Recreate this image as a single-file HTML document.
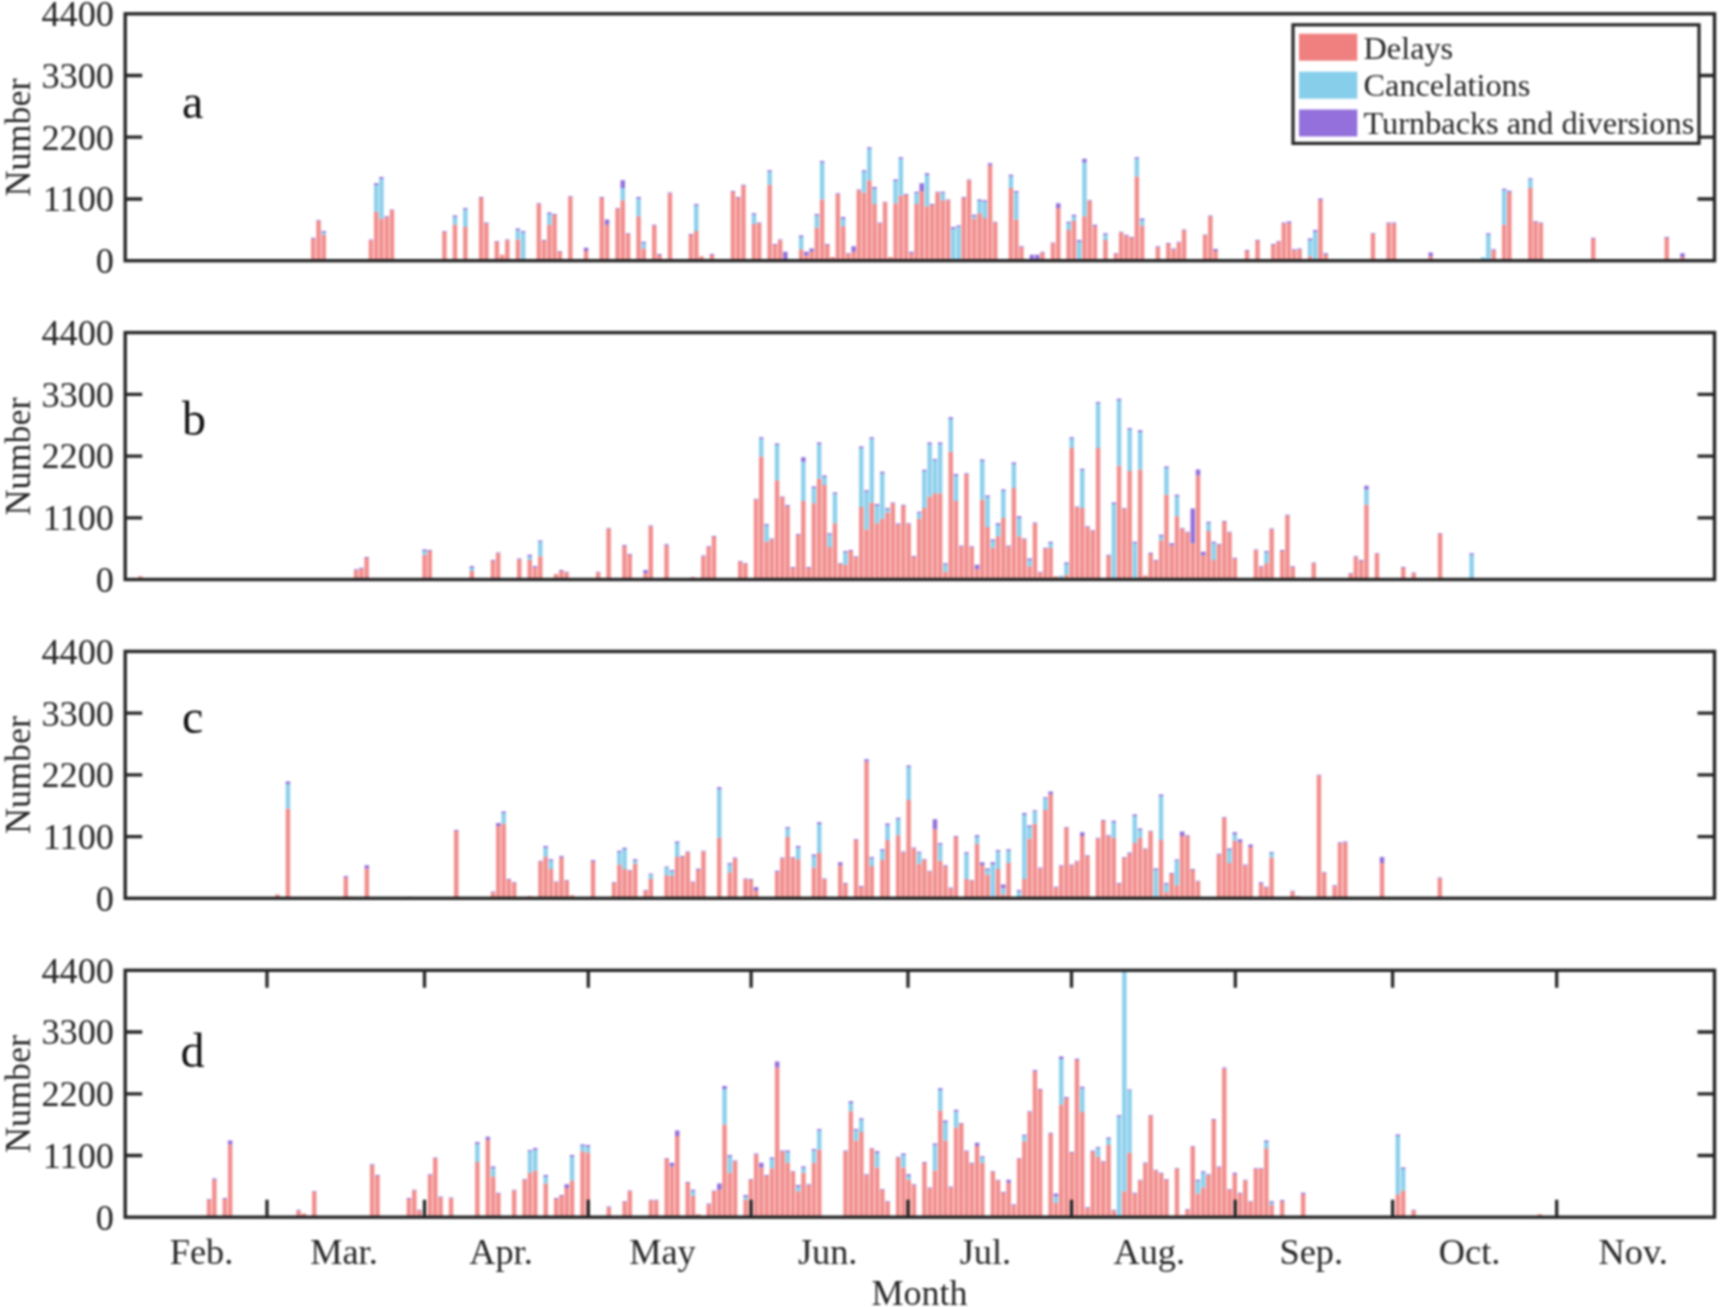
<!DOCTYPE html>
<html lang="en"><head><meta charset="utf-8"><title>Delays, cancelations, turnbacks and diversions by month</title>
<style>html,body{margin:0;padding:0;background:#fff}svg{display:block;filter:blur(0.8px)}</style></head>
<body>
<svg width="1725" height="1307" viewBox="0 0 1725 1307" font-family="'Liberation Serif', 'Times New Roman', serif">
<rect width="1725" height="1307" fill="#fff"/>
<g id="bars-a"><path fill="#f28e8e" d="M311.0 260.7v-22.0h4.5v22.0zM316.3 260.7v-39.6h4.5v39.6zM321.5 260.7v-25.9h4.5v25.9zM368.7 260.7v-20.4h4.5v20.4zM374.0 260.7v-49.0h4.5v49.0zM379.2 260.7v-42.1h4.5v42.1zM384.5 260.7v-43.5h4.5v43.5zM389.7 260.7v-50.4h4.5v50.4zM442.2 260.7v-28.9h4.5v28.9zM452.7 260.7v-35.9h4.5v35.9zM463.1 260.7v-33.6h4.5v33.6zM478.9 260.7v-62.7h4.5v62.7zM484.1 260.7v-37.3h4.5v37.3zM494.6 260.7v-18.9h4.5v18.9zM499.9 260.7v-6.0h4.5v6.0zM505.1 260.7v-20.4h4.5v20.4zM515.6 260.7v-21.3h4.5v21.3zM520.9 260.7v-1.8h4.5v1.8zM536.6 260.7v-56.5h4.5v56.5zM541.8 260.7v-19.7h4.5v19.7zM547.1 260.7v-35.9h4.5v35.9zM552.3 260.7v-45.8h4.5v45.8zM557.6 260.7v-8.9h4.5v8.9zM568.1 260.7v-63.5h4.5v63.5zM583.8 260.7v-9.8h4.5v9.8zM599.5 260.7v-62.7h4.5v62.7zM604.8 260.7v-35.9h4.5v35.9zM615.3 260.7v-51.9h4.5v51.9zM620.5 260.7v-60.5h4.5v60.5zM625.8 260.7v-26.6h4.5v26.6zM636.3 260.7v-44.4h4.5v44.4zM641.5 260.7v-12.1h4.5v12.1zM652.0 260.7v-35.0h4.5v35.0zM657.2 260.7v-5.8h4.5v5.8zM667.7 260.7v-67.3h4.5v67.3zM688.7 260.7v-25.8h4.5v25.8zM694.0 260.7v-29.8h4.5v29.8zM699.2 260.7v-4.4h4.5v4.4zM709.7 260.7v-5.8h4.5v5.8zM730.7 260.7v-68.8h4.5v68.8zM735.9 260.7v-62.7h4.5v62.7zM741.2 260.7v-75.0h4.5v75.0zM751.7 260.7v-36.7h4.5v36.7zM756.9 260.7v-37.3h4.5v37.3zM767.4 260.7v-75.9h4.5v75.9zM772.7 260.7v-15.8h4.5v15.8zM777.9 260.7v-20.4h4.5v20.4zM783.1 260.7v-1.8h4.5v1.8zM798.9 260.7v-11.4h4.5v11.4zM804.1 260.7v-5.2h4.5v5.2zM809.4 260.7v-9.0h4.5v9.0zM814.6 260.7v-32.9h4.5v32.9zM819.9 260.7v-61.3h4.5v61.3zM825.1 260.7v-15.8h4.5v15.8zM830.4 260.7v-3.7h4.5v3.7zM835.6 260.7v-66.5h4.5v66.5zM840.9 260.7v-34.4h4.5v34.4zM846.1 260.7v-6.6h4.5v6.6zM851.4 260.7v-9.0h4.5v9.0zM856.6 260.7v-70.4h4.5v70.4zM861.8 260.7v-68.2h4.5v68.2zM867.1 260.7v-80.5h4.5v80.5zM872.3 260.7v-56.7h4.5v56.7zM877.6 260.7v-37.3h4.5v37.3zM882.8 260.7v-58.1h4.5v58.1zM888.1 260.7v-3.7h4.5v3.7zM893.3 260.7v-57.4h4.5v57.4zM898.6 260.7v-65.1h4.5v65.1zM903.8 260.7v-65.8h4.5v65.8zM909.1 260.7v-7.5h4.5v7.5zM914.3 260.7v-56.7h4.5v56.7zM919.5 260.7v-69.7h4.5v69.7zM924.8 260.7v-54.4h4.5v54.4zM930.0 260.7v-55.8h4.5v55.8zM935.3 260.7v-68.1h4.5v68.1zM940.5 260.7v-60.5h4.5v60.5zM945.8 260.7v-60.4h4.5v60.4zM951.0 260.7v-1.8h4.5v1.8zM956.3 260.7v-1.8h4.5v1.8zM961.5 260.7v-62.7h4.5v62.7zM966.8 260.7v-80.4h4.5v80.4zM972.0 260.7v-42.1h4.5v42.1zM977.3 260.7v-47.5h4.5v47.5zM982.5 260.7v-42.8h4.5v42.8zM987.8 260.7v-95.1h4.5v95.1zM993.0 260.7v-38.1h4.5v38.1zM1008.7 260.7v-72.8h4.5v72.8zM1014.0 260.7v-41.3h4.5v41.3zM1019.2 260.7v-13.5h4.5v13.5zM1029.7 260.7v-1.8h4.5v1.8zM1035.0 260.7v-1.8h4.5v1.8zM1040.2 260.7v-8.1h4.5v8.1zM1050.7 260.7v-17.4h4.5v17.4zM1056.0 260.7v-52.8h4.5v52.8zM1066.4 260.7v-30.6h4.5v30.6zM1071.7 260.7v-39.8h4.5v39.8zM1076.9 260.7v-1.8h4.5v1.8zM1082.2 260.7v-44.4h4.5v44.4zM1087.4 260.7v-59.6h4.5v59.6zM1092.7 260.7v-34.4h4.5v34.4zM1103.2 260.7v-20.6h4.5v20.6zM1113.7 260.7v-6.6h4.5v6.6zM1118.9 260.7v-28.1h4.5v28.1zM1124.1 260.7v-25.0h4.5v25.0zM1129.4 260.7v-22.7h4.5v22.7zM1134.6 260.7v-84.3h4.5v84.3zM1139.9 260.7v-35.2h4.5v35.2zM1155.6 260.7v-13.5h4.5v13.5zM1166.1 260.7v-16.7h4.5v16.7zM1171.4 260.7v-11.2h4.5v11.2zM1176.6 260.7v-18.1h4.5v18.1zM1181.8 260.7v-30.4h4.5v30.4zM1202.8 260.7v-25.9h4.5v25.9zM1208.1 260.7v-44.2h4.5v44.2zM1213.3 260.7v-9.8h4.5v9.8zM1244.8 260.7v-9.7h4.5v9.7zM1255.3 260.7v-19.7h4.5v19.7zM1271.0 260.7v-15.8h4.5v15.8zM1276.3 260.7v-18.9h4.5v18.9zM1281.5 260.7v-37.3h4.5v37.3zM1286.8 260.7v-37.5h4.5v37.5zM1292.0 260.7v-10.5h4.5v10.5zM1297.3 260.7v-11.2h4.5v11.2zM1307.8 260.7v-4.4h4.5v4.4zM1313.0 260.7v-1.8h4.5v1.8zM1318.2 260.7v-60.5h4.5v60.5zM1323.5 260.7v-6.0h4.5v6.0zM1370.7 260.7v-26.6h4.5v26.6zM1386.4 260.7v-37.3h4.5v37.3zM1391.7 260.7v-37.3h4.5v37.3zM1428.4 260.7v-4.4h4.5v4.4zM1480.9 260.7v-1.8h4.5v1.8zM1486.1 260.7v-1.8h4.5v1.8zM1491.4 260.7v-10.5h4.5v10.5zM1501.9 260.7v-35.9h4.5v35.9zM1507.1 260.7v-68.2h4.5v68.2zM1528.1 260.7v-72.8h4.5v72.8zM1533.3 260.7v-38.9h4.5v38.9zM1538.6 260.7v-37.3h4.5v37.3zM1591.0 260.7v-22.0h4.5v22.0zM1664.5 260.7v-22.7h4.5v22.7zM1680.2 260.7v-3.7h4.5v3.7z"/><path fill="#8dd0ec" d="M321.5 234.8v-2.2h4.5v2.2zM374.0 211.7v-26.8h4.5v26.8zM379.2 218.6v-39.9h4.5v39.9zM452.7 224.8v-7.6h4.5v7.6zM463.1 227.1v-17.6h4.5v17.6zM515.6 239.4v-9.2h4.5v9.2zM520.9 258.9v-26.4h4.5v26.4zM547.1 224.8v-10.7h4.5v10.7zM620.5 200.2v-12.3h4.5v12.3zM636.3 216.3v-17.6h4.5v17.6zM641.5 248.6v-5.3h4.5v5.3zM694.0 230.9v-25.3h4.5v25.3zM751.7 224.0v-9.2h4.5v9.2zM767.4 184.8v-13.0h4.5v13.0zM798.9 249.3v-12.2h4.5v12.2zM814.6 227.8v-12.2h4.5v12.2zM819.9 199.4v-36.8h4.5v36.8zM840.9 226.3v-7.6h4.5v7.6zM861.8 192.5v-20.7h4.5v20.7zM867.1 180.2v-31.4h4.5v31.4zM872.3 204.0v-15.3h4.5v15.3zM893.3 203.3v-22.2h4.5v22.2zM898.6 195.6v-36.8h4.5v36.8zM914.3 204.0v-10.7h4.5v10.7zM924.8 206.3v-31.4h4.5v31.4zM940.5 200.2v-6.8h4.5v6.8zM951.0 258.9v-30.2h4.5v30.2zM956.3 258.9v-31.7h4.5v31.7zM972.0 218.6v-2.2h4.5v2.2zM977.3 213.2v-12.2h4.5v12.2zM982.5 217.9v-16.1h4.5v16.1zM1008.7 187.9v-11.5h4.5v11.5zM1014.0 219.4v-26.8h4.5v26.8zM1066.4 230.1v-6.8h4.5v6.8zM1071.7 220.9v-4.5h4.5v4.5zM1076.9 258.9v-17.1h4.5v17.1zM1082.2 216.3v-53.8h4.5v53.8zM1103.2 240.1v-5.3h4.5v5.3zM1134.6 176.4v-17.6h4.5v17.6zM1139.9 225.5v-5.3h4.5v5.3zM1202.8 234.8v-0.8h4.5v0.8zM1307.8 256.3v-16.1h4.5v16.1zM1313.0 258.9v-27.1h4.5v27.1zM1480.9 258.9v-1.8h4.5v1.8zM1486.1 258.9v-24.1h4.5v24.1zM1501.9 224.8v-34.5h4.5v34.5zM1528.1 187.9v-8.4h4.5v8.4z"/><path fill="#9370db" d="M311.0 238.7v-0.9h4.5v0.9zM316.3 221.1v-0.9h4.5v0.9zM321.5 232.5v-1.6h4.5v1.6zM368.7 240.3v-0.9h4.5v0.9zM374.0 184.9v-1.6h4.5v1.6zM379.2 178.7v-1.6h4.5v1.6zM384.5 217.2v-0.9h4.5v0.9zM389.7 210.3v-0.9h4.5v0.9zM442.2 231.8v-0.9h4.5v0.9zM452.7 217.2v-1.6h4.5v1.6zM463.1 209.5v-1.6h4.5v1.6zM478.9 198.0v-0.9h4.5v0.9zM484.1 223.4v-0.9h4.5v0.9zM494.6 241.8v-0.9h4.5v0.9zM505.1 240.3v-0.9h4.5v0.9zM515.6 230.2v-1.6h4.5v1.6zM520.9 232.5v-1.6h4.5v1.6zM536.6 204.2v-0.9h4.5v0.9zM541.8 241.0v-0.9h4.5v0.9zM547.1 214.1v-1.6h4.5v1.6zM552.3 214.9v-0.9h4.5v0.9zM557.6 251.8v-0.9h4.5v0.9zM568.1 197.2v-0.9h4.5v0.9zM583.8 250.9v-3.1h4.5v3.1zM599.5 198.0v-0.9h4.5v0.9zM604.8 224.8v-5.4h4.5v5.4zM615.3 208.8v-0.9h4.5v0.9zM620.5 187.9v-7.7h4.5v7.7zM625.8 234.1v-0.9h4.5v0.9zM636.3 198.7v-1.6h4.5v1.6zM641.5 243.3v-1.6h4.5v1.6zM652.0 225.7v-0.9h4.5v0.9zM657.2 254.9v-0.9h4.5v0.9zM667.7 193.4v-0.9h4.5v0.9zM688.7 234.9v-0.9h4.5v0.9zM694.0 205.6v-1.6h4.5v1.6zM709.7 254.9v-0.9h4.5v0.9zM730.7 191.9v-0.9h4.5v0.9zM735.9 198.0v-0.9h4.5v0.9zM741.2 185.7v-0.9h4.5v0.9zM751.7 214.8v-1.6h4.5v1.6zM756.9 223.4v-0.9h4.5v0.9zM767.4 171.8v-1.6h4.5v1.6zM772.7 244.9v-0.9h4.5v0.9zM777.9 240.3v-0.9h4.5v0.9zM783.1 258.9v-7.2h4.5v7.2zM798.9 237.1v-1.6h4.5v1.6zM804.1 255.5v-3.8h4.5v3.8zM809.4 251.7v-3.1h4.5v3.1zM814.6 215.6v-1.6h4.5v1.6zM819.9 162.6v-1.6h4.5v1.6zM825.1 244.9v-0.9h4.5v0.9zM835.6 194.2v-0.9h4.5v0.9zM840.9 218.7v-1.6h4.5v1.6zM846.1 254.1v-0.9h4.5v0.9zM851.4 251.7v-5.4h4.5v5.4zM856.6 190.3v-0.9h4.5v0.9zM861.8 171.8v-1.6h4.5v1.6zM867.1 148.8v-1.6h4.5v1.6zM872.3 188.7v-1.6h4.5v1.6zM877.6 223.4v-0.9h4.5v0.9zM882.8 202.6v-0.9h4.5v0.9zM893.3 181.0v-1.6h4.5v1.6zM898.6 158.8v-1.6h4.5v1.6zM903.8 194.9v-0.9h4.5v0.9zM909.1 253.2v-1.5h4.5v1.5zM914.3 193.3v-1.6h4.5v1.6zM919.5 191.0v-7.7h4.5v7.7zM924.8 174.9v-1.6h4.5v1.6zM930.0 204.9v-0.9h4.5v0.9zM935.3 192.6v-0.9h4.5v0.9zM940.5 193.3v-1.6h4.5v1.6zM945.8 200.3v-0.9h4.5v0.9zM951.0 228.7v-1.6h4.5v1.6zM956.3 227.1v-1.6h4.5v1.6zM961.5 198.0v-0.9h4.5v0.9zM966.8 180.3v-0.9h4.5v0.9zM972.0 216.4v-1.6h4.5v1.6zM977.3 201.0v-1.6h4.5v1.6zM982.5 201.8v-1.6h4.5v1.6zM987.8 165.6v-2.3h4.5v2.3zM993.0 222.6v-0.9h4.5v0.9zM1008.7 176.4v-1.6h4.5v1.6zM1014.0 192.6v-1.6h4.5v1.6zM1019.2 247.2v-0.9h4.5v0.9zM1029.7 258.9v-4.1h4.5v4.1zM1035.0 258.9v-4.1h4.5v4.1zM1040.2 252.6v-0.9h4.5v0.9zM1050.7 243.3v-0.9h4.5v0.9zM1056.0 207.9v-4.6h4.5v4.6zM1066.4 223.3v-1.6h4.5v1.6zM1071.7 216.4v-1.6h4.5v1.6zM1076.9 241.7v-1.6h4.5v1.6zM1082.2 162.6v-3.8h4.5v3.8zM1087.4 201.1v-0.9h4.5v0.9zM1092.7 226.3v-1.5h4.5v1.5zM1103.2 234.8v-1.6h4.5v1.6zM1113.7 254.1v-0.9h4.5v0.9zM1118.9 232.6v-0.9h4.5v0.9zM1124.1 235.7v-0.9h4.5v0.9zM1129.4 238.0v-0.9h4.5v0.9zM1134.6 158.8v-1.6h4.5v1.6zM1139.9 220.2v-1.6h4.5v1.6zM1155.6 247.2v-0.9h4.5v0.9zM1166.1 244.0v-1.1h4.5v1.1zM1171.4 249.5v-0.9h4.5v0.9zM1176.6 242.6v-0.9h4.5v0.9zM1181.8 230.3v-0.9h4.5v0.9zM1208.1 216.5v-0.9h4.5v0.9zM1213.3 250.9v-1.8h4.5v1.8zM1244.8 251.0v-0.9h4.5v0.9zM1255.3 241.0v-0.9h4.5v0.9zM1271.0 244.9v-0.9h4.5v0.9zM1276.3 241.8v-0.9h4.5v0.9zM1281.5 223.4v-0.9h4.5v0.9zM1286.8 223.2v-1.8h4.5v1.8zM1292.0 250.2v-0.9h4.5v0.9zM1297.3 249.5v-0.9h4.5v0.9zM1307.8 240.2v-1.6h4.5v1.6zM1313.0 231.7v-1.6h4.5v1.6zM1318.2 200.2v-1.8h4.5v1.8zM1323.5 254.7v-1.5h4.5v1.5zM1370.7 234.1v-0.9h4.5v0.9zM1386.4 223.4v-0.9h4.5v0.9zM1391.7 223.4v-0.9h4.5v0.9zM1428.4 256.3v-3.8h4.5v3.8zM1486.1 234.8v-1.6h4.5v1.6zM1491.4 250.2v-0.9h4.5v0.9zM1501.9 190.3v-1.6h4.5v1.6zM1507.1 192.5v-1.8h4.5v1.8zM1528.1 179.4v-1.1h4.5v1.1zM1533.3 221.8v-0.9h4.5v0.9zM1538.6 223.4v-0.9h4.5v0.9zM1591.0 238.7v-0.9h4.5v0.9zM1664.5 238.0v-0.9h4.5v0.9zM1680.2 257.0v-3.8h4.5v3.8z"/></g>
<rect x="125.2" y="13.8" width="1589.3" height="246.9" fill="none" stroke="#262626" stroke-width="3.4"/>
<path d="M125.2 199.0h17M1714.5 199.0h-17M125.2 137.2h17M1714.5 137.2h-17M125.2 75.5h17M1714.5 75.5h-17" stroke="#262626" stroke-width="3.3" fill="none"/>
<text x="114" y="273.1" font-size="36.3" text-anchor="end" fill="#262626">0</text>
<text x="114" y="211.4" font-size="36.3" text-anchor="end" fill="#262626">1100</text>
<text x="114" y="149.7" font-size="36.3" text-anchor="end" fill="#262626">2200</text>
<text x="114" y="87.9" font-size="36.3" text-anchor="end" fill="#262626">3300</text>
<text x="114" y="26.2" font-size="36.3" text-anchor="end" fill="#262626">4400</text>
<text transform="translate(30.2 137.6) rotate(-90)" font-size="36" text-anchor="middle" fill="#262626">Number</text>
<g id="bars-b"><path fill="#f28e8e" d="M138.1 579.5v-3.2h4.5v3.2zM353.9 579.5v-9.3h4.5v9.3zM359.1 579.5v-10.8h4.5v10.8zM364.4 579.5v-21.5h4.5v21.5zM422.3 579.5v-24.7h4.5v24.7zM427.5 579.5v-28.5h4.5v28.5zM469.6 579.5v-8.6h4.5v8.6zM490.7 579.5v-18.5h4.5v18.5zM495.9 579.5v-26.2h4.5v26.2zM517.0 579.5v-20.0h4.5v20.0zM527.5 579.5v-19.4h4.5v19.4zM532.8 579.5v-12.0h4.5v12.0zM538.0 579.5v-23.2h4.5v23.2zM553.8 579.5v-5.5h4.5v5.5zM559.1 579.5v-8.5h4.5v8.5zM564.3 579.5v-6.9h4.5v6.9zM595.9 579.5v-6.9h4.5v6.9zM606.4 579.5v-50.7h4.5v50.7zM622.2 579.5v-33.2h4.5v33.2zM627.5 579.5v-24.6h4.5v24.6zM643.3 579.5v-6.3h4.5v6.3zM648.5 579.5v-53.0h4.5v53.0zM664.3 579.5v-34.0h4.5v34.0zM690.6 579.5v-2.5h4.5v2.5zM701.1 579.5v-23.1h4.5v23.1zM706.4 579.5v-32.3h4.5v32.3zM711.7 579.5v-42.4h4.5v42.4zM738.0 579.5v-17.7h4.5v17.7zM743.2 579.5v-15.4h4.5v15.4zM753.8 579.5v-79.9h4.5v79.9zM759.0 579.5v-123.1h4.5v123.1zM764.3 579.5v-37.8h4.5v37.8zM769.5 579.5v-40.0h4.5v40.0zM774.8 579.5v-99.3h4.5v99.3zM780.1 579.5v-82.2h4.5v82.2zM785.3 579.5v-73.1h4.5v73.1zM790.6 579.5v-11.6h4.5v11.6zM795.9 579.5v-44.6h4.5v44.6zM801.1 579.5v-78.5h4.5v78.5zM806.4 579.5v-11.6h4.5v11.6zM811.6 579.5v-76.2h4.5v76.2zM816.9 579.5v-100.8h4.5v100.8zM822.2 579.5v-94.6h4.5v94.6zM827.4 579.5v-32.4h4.5v32.4zM832.7 579.5v-56.2h4.5v56.2zM838.0 579.5v-15.4h4.5v15.4zM843.2 579.5v-14.8h4.5v14.8zM848.5 579.5v-28.5h4.5v28.5zM853.7 579.5v-22.3h4.5v22.3zM859.0 579.5v-72.4h4.5v72.4zM864.3 579.5v-50.1h4.5v50.1zM869.5 579.5v-77.0h4.5v77.0zM874.8 579.5v-56.2h4.5v56.2zM880.0 579.5v-60.8h4.5v60.8zM885.3 579.5v-67.0h4.5v67.0zM890.6 579.5v-76.1h4.5v76.1zM895.8 579.5v-54.7h4.5v54.7zM901.1 579.5v-73.8h4.5v73.8zM906.4 579.5v-55.3h4.5v55.3zM911.6 579.5v-22.4h4.5v22.4zM916.9 579.5v-60.8h4.5v60.8zM922.1 579.5v-71.6h4.5v71.6zM927.4 579.5v-83.1h4.5v83.1zM932.7 579.5v-86.2h4.5v86.2zM937.9 579.5v-86.2h4.5v86.2zM943.2 579.5v-7.8h4.5v7.8zM948.5 579.5v-127.7h4.5v127.7zM953.7 579.5v-78.5h4.5v78.5zM959.0 579.5v-33.1h4.5v33.1zM964.2 579.5v-105.3h4.5v105.3zM969.5 579.5v-32.3h4.5v32.3zM974.8 579.5v-10.2h4.5v10.2zM980.0 579.5v-80.1h4.5v80.1zM985.3 579.5v-52.4h4.5v52.4zM990.6 579.5v-31.7h4.5v31.7zM995.8 579.5v-43.2h4.5v43.2zM1001.1 579.5v-61.6h4.5v61.6zM1006.3 579.5v-33.1h4.5v33.1zM1011.6 579.5v-91.6h4.5v91.6zM1016.9 579.5v-43.2h4.5v43.2zM1022.1 579.5v-40.0h4.5v40.0zM1027.4 579.5v-13.2h4.5v13.2zM1032.7 579.5v-56.1h4.5v56.1zM1037.9 579.5v-6.9h4.5v6.9zM1043.2 579.5v-30.8h4.5v30.8zM1048.4 579.5v-31.7h4.5v31.7zM1053.7 579.5v-3.2h4.5v3.2zM1064.2 579.5v-4.8h4.5v4.8zM1069.5 579.5v-131.5h4.5v131.5zM1074.8 579.5v-72.2h4.5v72.2zM1080.0 579.5v-71.6h4.5v71.6zM1085.3 579.5v-52.3h4.5v52.3zM1090.5 579.5v-48.4h4.5v48.4zM1095.8 579.5v-131.5h4.5v131.5zM1106.3 579.5v-23.8h4.5v23.8zM1116.8 579.5v-113.8h4.5v113.8zM1122.1 579.5v-70.7h4.5v70.7zM1127.4 579.5v-108.5h4.5v108.5zM1137.9 579.5v-110.0h4.5v110.0zM1143.2 579.5v-4.0h4.5v4.0zM1148.4 579.5v-25.5h4.5v25.5zM1153.7 579.5v-18.5h4.5v18.5zM1158.9 579.5v-39.3h4.5v39.3zM1164.2 579.5v-84.7h4.5v84.7zM1169.5 579.5v-34.0h4.5v34.0zM1174.7 579.5v-63.2h4.5v63.2zM1180.0 579.5v-50.7h4.5v50.7zM1185.2 579.5v-46.9h4.5v46.9zM1190.5 579.5v-36.3h4.5v36.3zM1195.8 579.5v-103.9h4.5v103.9zM1201.0 579.5v-24.0h4.5v24.0zM1206.3 579.5v-48.6h4.5v48.6zM1211.6 579.5v-19.4h4.5v19.4zM1216.8 579.5v-34.6h4.5v34.6zM1222.1 579.5v-57.6h4.5v57.6zM1227.3 579.5v-46.9h4.5v46.9zM1232.6 579.5v-20.8h4.5v20.8zM1253.7 579.5v-29.2h4.5v29.2zM1258.9 579.5v-12.3h4.5v12.3zM1264.2 579.5v-16.3h4.5v16.3zM1269.4 579.5v-50.0h4.5v50.0zM1280.0 579.5v-28.5h4.5v28.5zM1285.2 579.5v-63.8h4.5v63.8zM1290.5 579.5v-12.3h4.5v12.3zM1311.5 579.5v-16.2h4.5v16.2zM1348.4 579.5v-5.4h4.5v5.4zM1353.6 579.5v-22.3h4.5v22.3zM1358.9 579.5v-18.5h4.5v18.5zM1364.2 579.5v-74.7h4.5v74.7zM1374.7 579.5v-25.4h4.5v25.4zM1401.0 579.5v-11.6h4.5v11.6zM1411.5 579.5v-6.2h4.5v6.2zM1437.8 579.5v-45.4h4.5v45.4z"/><path fill="#8dd0ec" d="M422.3 554.8v-3.8h4.5v3.8zM469.6 570.9v-3.0h4.5v3.0zM527.5 560.1v-3.8h4.5v3.8zM538.0 556.3v-14.6h4.5v14.6zM759.0 456.4v-17.6h4.5v17.6zM764.3 541.7v-16.1h4.5v16.1zM774.8 480.2v-35.3h4.5v35.3zM801.1 501.0v-39.2h4.5v39.2zM811.6 503.3v-15.3h4.5v15.3zM816.9 478.7v-34.5h4.5v34.5zM822.2 484.9v-7.6h4.5v7.6zM827.4 547.1v-12.2h4.5v12.2zM832.7 523.3v-29.1h4.5v29.1zM843.2 564.7v-12.2h4.5v12.2zM859.0 507.1v-59.1h4.5v59.1zM864.3 529.4v-37.6h4.5v37.6zM869.5 502.5v-63.7h4.5v63.7zM874.8 523.3v-17.6h4.5v17.6zM880.0 518.7v-45.3h4.5v45.3zM885.3 512.5v-3.0h4.5v3.0zM916.9 518.7v-5.3h4.5v5.3zM922.1 507.9v-36.9h4.5v36.9zM927.4 496.4v-52.2h4.5v52.2zM932.7 493.3v-33.0h4.5v33.0zM937.9 493.3v-49.1h4.5v49.1zM943.2 571.7v-6.8h4.5v6.8zM948.5 451.8v-33.0h4.5v33.0zM953.7 501.0v-25.3h4.5v25.3zM980.0 499.4v-38.3h4.5v38.3zM985.3 527.1v-29.9h4.5v29.9zM990.6 547.8v-6.8h4.5v6.8zM995.8 536.3v-11.5h4.5v11.5zM1001.1 517.9v-26.8h4.5v26.8zM1011.6 487.9v-23.7h4.5v23.7zM1016.9 536.3v-18.4h4.5v18.4zM1027.4 566.3v-6.1h4.5v6.1zM1048.4 547.8v-4.5h4.5v4.5zM1059.0 579.5v-4.0h4.5v4.0zM1064.2 574.7v-10.7h4.5v10.7zM1069.5 448.0v-9.2h4.5v9.2zM1080.0 507.9v-37.6h4.5v37.6zM1095.8 448.0v-44.5h4.5v44.5zM1111.6 579.5v-75.4h4.5v75.4zM1116.8 465.7v-65.2h4.5v65.2zM1127.4 471.0v-41.4h4.5v41.4zM1132.6 579.5v-36.2h4.5v36.2zM1137.9 469.5v-37.6h4.5v37.6zM1158.9 540.2v-3.8h4.5v3.8zM1164.2 494.8v-26.8h4.5v26.8zM1174.7 516.3v-19.9h4.5v19.9zM1206.3 530.9v-7.6h4.5v7.6zM1211.6 560.1v-16.8h4.5v16.8zM1264.2 563.2v-10.7h4.5v10.7zM1364.2 504.8v-15.4h4.5v15.4zM1469.4 579.5v-24.7h4.5v24.7z"/><path fill="#9370db" d="M353.9 570.2v-0.9h4.5v0.9zM359.1 568.7v-0.9h4.5v0.9zM364.4 558.0v-0.9h4.5v0.9zM422.3 551.0v-1.6h4.5v1.6zM427.5 551.0v-0.9h4.5v0.9zM469.6 567.9v-1.6h4.5v1.6zM490.7 561.0v-0.9h4.5v0.9zM495.9 553.3v-0.9h4.5v0.9zM517.0 559.5v-0.9h4.5v0.9zM527.5 556.4v-1.6h4.5v1.6zM532.8 567.5v-1.5h4.5v1.5zM538.0 541.7v-1.2h4.5v1.2zM559.1 571.0v-0.9h4.5v0.9zM564.3 572.6v-0.9h4.5v0.9zM595.9 572.6v-0.9h4.5v0.9zM606.4 528.8v-0.9h4.5v0.9zM622.2 546.3v-1.2h4.5v1.2zM627.5 554.9v-0.9h4.5v0.9zM643.3 573.2v-3.1h4.5v3.1zM648.5 526.5v-0.9h4.5v0.9zM664.3 545.5v-1.2h4.5v1.2zM701.1 556.4v-0.9h4.5v0.9zM706.4 547.2v-0.9h4.5v0.9zM711.7 537.1v-1.2h4.5v1.2zM738.0 561.8v-0.9h4.5v0.9zM743.2 564.1v-0.9h4.5v0.9zM753.8 499.6v-0.9h4.5v0.9zM759.0 438.8v-1.6h4.5v1.6zM764.3 525.6v-1.6h4.5v1.6zM769.5 539.5v-0.9h4.5v0.9zM774.8 445.0v-1.6h4.5v1.6zM780.1 497.3v-0.9h4.5v0.9zM785.3 506.4v-1.5h4.5v1.5zM790.6 567.9v-0.9h4.5v0.9zM795.9 534.9v-0.9h4.5v0.9zM801.1 461.8v-4.6h4.5v4.6zM806.4 567.9v-0.9h4.5v0.9zM811.6 488.0v-1.6h4.5v1.6zM816.9 444.2v-1.6h4.5v1.6zM822.2 477.2v-1.6h4.5v1.6zM827.4 534.8v-1.6h4.5v1.6zM832.7 494.1v-1.6h4.5v1.6zM838.0 564.1v-0.9h4.5v0.9zM843.2 552.5v-1.6h4.5v1.6zM848.5 551.0v-0.9h4.5v0.9zM853.7 557.2v-0.9h4.5v0.9zM859.0 448.0v-1.6h4.5v1.6zM864.3 491.8v-1.6h4.5v1.6zM869.5 438.8v-1.6h4.5v1.6zM874.8 505.7v-1.6h4.5v1.6zM880.0 473.4v-1.6h4.5v1.6zM885.3 509.5v-1.6h4.5v1.6zM890.6 503.4v-0.9h4.5v0.9zM895.8 524.8v-1.2h4.5v1.2zM901.1 505.7v-0.9h4.5v0.9zM906.4 524.2v-0.9h4.5v0.9zM911.6 557.1v-1.2h4.5v1.2zM916.9 513.3v-1.6h4.5v1.6zM922.1 471.0v-1.2h4.5v1.2zM927.4 444.2v-1.6h4.5v1.6zM932.7 460.3v-1.2h4.5v1.2zM937.9 444.2v-1.6h4.5v1.6zM943.2 564.8v-1.6h4.5v1.6zM948.5 418.9v-1.6h4.5v1.6zM953.7 475.7v-1.6h4.5v1.6zM959.0 546.4v-0.9h4.5v0.9zM964.2 474.2v-0.9h4.5v0.9zM969.5 547.2v-0.9h4.5v0.9zM974.8 569.3v-4.6h4.5v4.6zM980.0 461.1v-1.6h4.5v1.6zM985.3 497.2v-1.6h4.5v1.6zM990.6 541.0v-1.6h4.5v1.6zM995.8 524.9v-1.6h4.5v1.6zM1001.1 491.1v-1.6h4.5v1.6zM1006.3 546.4v-0.9h4.5v0.9zM1011.6 464.2v-1.6h4.5v1.6zM1016.9 517.9v-1.6h4.5v1.6zM1022.1 539.5v-0.9h4.5v0.9zM1027.4 560.2v-1.6h4.5v1.6zM1032.7 523.4v-0.9h4.5v0.9zM1037.9 572.6v-0.9h4.5v0.9zM1043.2 548.7v-0.9h4.5v0.9zM1048.4 543.3v-1.6h4.5v1.6zM1064.2 564.0v-1.6h4.5v1.6zM1069.5 438.8v-1.6h4.5v1.6zM1074.8 507.3v-0.9h4.5v0.9zM1080.0 470.3v-1.6h4.5v1.6zM1085.3 527.2v-0.9h4.5v0.9zM1090.5 531.1v-0.9h4.5v0.9zM1095.8 403.5v-1.6h4.5v1.6zM1106.3 555.7v-0.9h4.5v0.9zM1111.6 504.1v-1.6h4.5v1.6zM1116.8 400.4v-1.6h4.5v1.6zM1122.1 508.8v-0.9h4.5v0.9zM1127.4 429.6v-1.6h4.5v1.6zM1132.6 543.3v-1.6h4.5v1.6zM1137.9 431.9v-1.6h4.5v1.6zM1148.4 554.0v-1.2h4.5v1.2zM1153.7 561.0v-0.9h4.5v0.9zM1158.9 536.4v-1.6h4.5v1.6zM1164.2 468.0v-1.6h4.5v1.6zM1169.5 545.5v-2.3h4.5v2.3zM1174.7 496.4v-1.6h4.5v1.6zM1180.0 528.8v-0.9h4.5v0.9zM1185.2 532.6v-0.9h4.5v0.9zM1190.5 543.2v-34.6h4.5v34.6zM1195.8 475.6v-6.1h4.5v6.1zM1201.0 555.5v-3.8h4.5v3.8zM1206.3 523.3v-1.6h4.5v1.6zM1211.6 543.3v-1.6h4.5v1.6zM1216.8 544.9v-0.9h4.5v0.9zM1222.1 521.9v-0.9h4.5v0.9zM1227.3 532.6v-0.9h4.5v0.9zM1232.6 558.7v-0.9h4.5v0.9zM1253.7 550.3v-0.9h4.5v0.9zM1258.9 567.2v-0.9h4.5v0.9zM1264.2 552.5v-1.6h4.5v1.6zM1269.4 529.5v-0.9h4.5v0.9zM1280.0 551.0v-0.9h4.5v0.9zM1285.2 515.7v-0.9h4.5v0.9zM1290.5 567.2v-0.9h4.5v0.9zM1311.5 563.3v-0.9h4.5v0.9zM1348.4 574.1v-0.9h4.5v0.9zM1353.6 557.2v-0.9h4.5v0.9zM1358.9 561.0v-0.9h4.5v0.9zM1364.2 489.5v-3.8h4.5v3.8zM1374.7 554.1v-0.9h4.5v0.9zM1401.0 567.9v-0.9h4.5v0.9zM1411.5 573.3v-0.9h4.5v0.9zM1437.8 534.1v-0.9h4.5v0.9zM1469.4 554.8v-1.6h4.5v1.6z"/></g>
<rect x="125.2" y="332.6" width="1589.3" height="246.9" fill="none" stroke="#262626" stroke-width="3.4"/>
<path d="M125.2 517.8h17M1714.5 517.8h-17M125.2 456.1h17M1714.5 456.1h-17M125.2 394.3h17M1714.5 394.3h-17" stroke="#262626" stroke-width="3.3" fill="none"/>
<text x="114" y="591.9" font-size="36.3" text-anchor="end" fill="#262626">0</text>
<text x="114" y="530.2" font-size="36.3" text-anchor="end" fill="#262626">1100</text>
<text x="114" y="468.4" font-size="36.3" text-anchor="end" fill="#262626">2200</text>
<text x="114" y="406.7" font-size="36.3" text-anchor="end" fill="#262626">3300</text>
<text x="114" y="345.0" font-size="36.3" text-anchor="end" fill="#262626">4400</text>
<text transform="translate(30.2 456.4) rotate(-90)" font-size="36" text-anchor="middle" fill="#262626">Number</text>
<g id="bars-c"><path fill="#f28e8e" d="M275.2 898.3v-3.8h4.5v3.8zM285.7 898.3v-89.8h4.5v89.8zM343.6 898.3v-20.7h4.5v20.7zM348.8 898.3v-1.5h4.5v1.5zM364.6 898.3v-29.9h4.5v29.9zM406.7 898.3v-1.5h4.5v1.5zM454.0 898.3v-67.4h4.5v67.4zM490.8 898.3v-6.0h4.5v6.0zM496.1 898.3v-72.2h4.5v72.2zM501.4 898.3v-74.5h4.5v74.5zM506.6 898.3v-18.3h4.5v18.3zM511.9 898.3v-15.2h4.5v15.2zM527.6 898.3v-2.3h4.5v2.3zM538.2 898.3v-36.7h4.5v36.7zM543.4 898.3v-41.4h4.5v41.4zM548.7 898.3v-29.2h4.5v29.2zM554.0 898.3v-16.0h4.5v16.0zM559.2 898.3v-40.7h4.5v40.7zM564.5 898.3v-17.5h4.5v17.5zM569.7 898.3v-3.0h4.5v3.0zM590.8 898.3v-36.8h4.5v36.8zM611.8 898.3v-15.2h4.5v15.2zM617.1 898.3v-33.8h4.5v33.8zM622.3 898.3v-29.2h4.5v29.2zM627.6 898.3v-27.5h4.5v27.5zM632.9 898.3v-34.5h4.5v34.5zM643.4 898.3v-7.5h4.5v7.5zM648.6 898.3v-19.2h4.5v19.2zM664.4 898.3v-23.0h4.5v23.0zM669.7 898.3v-22.2h4.5v22.2zM674.9 898.3v-41.4h4.5v41.4zM680.2 898.3v-41.3h4.5v41.3zM685.5 898.3v-45.9h4.5v45.9zM690.7 898.3v-16.0h4.5v16.0zM696.0 898.3v-28.4h4.5v28.4zM701.2 898.3v-46.7h4.5v46.7zM717.0 898.3v-60.6h4.5v60.6zM727.5 898.3v-26.1h4.5v26.1zM732.8 898.3v-39.8h4.5v39.8zM743.3 898.3v-19.0h4.5v19.0zM748.6 898.3v-18.3h4.5v18.3zM753.8 898.3v-7.6h4.5v7.6zM774.9 898.3v-26.1h4.5v26.1zM780.1 898.3v-39.8h4.5v39.8zM785.4 898.3v-61.4h4.5v61.4zM790.6 898.3v-40.5h4.5v40.5zM795.9 898.3v-39.1h4.5v39.1zM811.7 898.3v-30.7h4.5v30.7zM817.0 898.3v-45.3h4.5v45.3zM822.2 898.3v-19.0h4.5v19.0zM838.0 898.3v-33.0h4.5v33.0zM843.2 898.3v-14.4h4.5v14.4zM853.8 898.3v-58.2h4.5v58.2zM859.0 898.3v-11.4h4.5v11.4zM864.3 898.3v-136.7h4.5v136.7zM869.5 898.3v-32.2h4.5v32.2zM880.1 898.3v-38.4h4.5v38.4zM885.3 898.3v-58.3h4.5v58.3zM895.9 898.3v-63.0h4.5v63.0zM901.1 898.3v-45.9h4.5v45.9zM906.4 898.3v-98.3h4.5v98.3zM911.6 898.3v-49.8h4.5v49.8zM916.9 898.3v-34.5h4.5v34.5zM922.1 898.3v-38.2h4.5v38.2zM927.4 898.3v-26.7h4.5v26.7zM932.7 898.3v-69.1h4.5v69.1zM937.9 898.3v-37.6h4.5v37.6zM943.2 898.3v-32.1h4.5v32.1zM948.5 898.3v-9.8h4.5v9.8zM953.7 898.3v-61.3h4.5v61.3zM964.2 898.3v-19.2h4.5v19.2zM969.5 898.3v-17.5h4.5v17.5zM974.8 898.3v-54.5h4.5v54.5zM980.0 898.3v-33.0h4.5v33.0zM985.3 898.3v-23.8h4.5v23.8zM995.8 898.3v-29.2h4.5v29.2zM1001.0 898.3v-3.8h4.5v3.8zM1006.3 898.3v-35.3h4.5v35.3zM1022.1 898.3v-19.2h4.5v19.2zM1027.3 898.3v-59.9h4.5v59.9zM1032.6 898.3v-74.5h4.5v74.5zM1037.9 898.3v-29.8h4.5v29.8zM1043.1 898.3v-88.3h4.5v88.3zM1048.4 898.3v-103.7h4.5v103.7zM1053.7 898.3v-10.6h4.5v10.6zM1058.9 898.3v-32.1h4.5v32.1zM1064.2 898.3v-70.5h4.5v70.5zM1069.4 898.3v-32.9h4.5v32.9zM1074.7 898.3v-36.7h4.5v36.7zM1080.0 898.3v-62.2h4.5v62.2zM1085.2 898.3v-42.1h4.5v42.1zM1095.7 898.3v-59.7h4.5v59.7zM1101.0 898.3v-77.4h4.5v77.4zM1106.2 898.3v-62.1h4.5v62.1zM1111.5 898.3v-60.6h4.5v60.6zM1116.8 898.3v-14.4h4.5v14.4zM1122.0 898.3v-40.5h4.5v40.5zM1127.3 898.3v-44.5h4.5v44.5zM1132.5 898.3v-55.3h4.5v55.3zM1137.8 898.3v-60.6h4.5v60.6zM1143.1 898.3v-49.0h4.5v49.0zM1148.3 898.3v-66.7h4.5v66.7zM1158.8 898.3v-58.3h4.5v58.3zM1164.1 898.3v-6.1h4.5v6.1zM1169.4 898.3v-24.4h4.5v24.4zM1174.6 898.3v-13.0h4.5v13.0zM1179.9 898.3v-62.2h4.5v62.2zM1185.2 898.3v-62.1h4.5v62.1zM1190.4 898.3v-28.3h4.5v28.3zM1195.7 898.3v-16.7h4.5v16.7zM1216.7 898.3v-43.6h4.5v43.6zM1222.0 898.3v-80.5h4.5v80.5zM1227.2 898.3v-35.3h4.5v35.3zM1232.5 898.3v-57.6h4.5v57.6zM1237.8 898.3v-56.0h4.5v56.0zM1243.0 898.3v-32.9h4.5v32.9zM1248.3 898.3v-51.4h4.5v51.4zM1258.8 898.3v-14.6h4.5v14.6zM1264.0 898.3v-10.6h4.5v10.6zM1269.3 898.3v-40.7h4.5v40.7zM1290.3 898.3v-6.7h4.5v6.7zM1295.6 898.3v-2.3h4.5v2.3zM1316.7 898.3v-122.7h4.5v122.7zM1321.9 898.3v-25.2h4.5v25.2zM1332.4 898.3v-12.1h4.5v12.1zM1337.7 898.3v-55.1h4.5v55.1zM1343.0 898.3v-55.9h4.5v55.9zM1379.8 898.3v-35.3h4.5v35.3zM1437.6 898.3v-19.8h4.5v19.8z"/><path fill="#8dd0ec" d="M285.7 808.5v-24.6h4.5v24.6zM501.4 823.8v-10.7h4.5v10.7zM543.4 856.9v-9.2h4.5v9.2zM548.7 869.1v-8.4h4.5v8.4zM617.1 864.5v-12.2h4.5v12.2zM622.3 869.1v-20.0h4.5v20.0zM632.9 863.8v-3.0h4.5v3.0zM648.6 879.1v-4.6h4.5v4.6zM664.4 875.3v-7.7h4.5v7.7zM669.7 876.1v-4.5h4.5v4.5zM674.9 856.9v-13.8h4.5v13.8zM717.0 837.7v-48.4h4.5v48.4zM727.5 872.2v-7.6h4.5v7.6zM785.4 836.9v-8.4h4.5v8.4zM795.9 859.2v-11.5h4.5v11.5zM811.7 867.6v-11.5h4.5v11.5zM817.0 853.0v-29.1h4.5v29.1zM869.5 866.1v-7.6h4.5v7.6zM880.1 859.9v-9.2h4.5v9.2zM885.3 840.0v-14.6h4.5v14.6zM895.9 835.3v-16.1h4.5v16.1zM906.4 800.0v-33.0h4.5v33.0zM916.9 863.8v-10.4h4.5v10.4zM937.9 860.7v-16.1h4.5v16.1zM964.2 879.1v-25.3h4.5v25.3zM974.8 843.8v-6.8h4.5v6.8zM985.3 874.5v-4.5h4.5v4.5zM990.5 898.3v-33.8h4.5v33.8zM995.8 869.1v-17.6h4.5v17.6zM1001.0 894.5v-6.1h4.5v6.1zM1006.3 863.0v-12.3h4.5v12.3zM1016.8 898.3v-6.8h4.5v6.8zM1022.1 879.1v-64.5h4.5v64.5zM1027.3 838.4v-11.5h4.5v11.5zM1032.6 823.8v-12.3h4.5v12.3zM1043.1 810.0v-11.5h4.5v11.5zM1111.5 837.7v-15.3h4.5v15.3zM1132.5 843.0v-26.8h4.5v26.8zM1137.8 837.7v-7.6h4.5v7.6zM1153.6 898.3v-28.3h4.5v28.3zM1158.8 840.0v-43.7h4.5v43.7zM1164.1 892.2v-7.6h4.5v7.6zM1174.6 885.3v-24.6h4.5v24.6zM1227.2 863.0v-13.0h4.5v13.0zM1232.5 840.7v-6.1h4.5v6.1zM1269.3 857.6v-4.6h4.5v4.6z"/><path fill="#9370db" d="M285.7 783.9v-2.3h4.5v2.3zM343.6 877.6v-1.5h4.5v1.5zM364.6 868.4v-3.1h4.5v3.1zM454.0 830.9v-0.9h4.5v0.9zM490.8 892.3v-0.9h4.5v0.9zM496.1 826.1v-3.1h4.5v3.1zM501.4 813.1v-1.6h4.5v1.6zM506.6 880.0v-0.9h4.5v0.9zM511.9 883.1v-0.9h4.5v0.9zM538.2 861.6v-0.9h4.5v0.9zM543.4 847.7v-1.6h4.5v1.6zM548.7 860.8v-1.6h4.5v1.6zM554.0 882.3v-0.9h4.5v0.9zM559.2 857.6v-1.5h4.5v1.5zM564.5 880.8v-0.9h4.5v0.9zM590.8 861.5v-1.5h4.5v1.5zM611.8 883.1v-0.9h4.5v0.9zM617.1 852.3v-1.6h4.5v1.6zM622.3 849.2v-1.5h4.5v1.5zM627.6 870.8v-0.9h4.5v0.9zM632.9 860.8v-1.6h4.5v1.6zM643.4 890.8v-0.9h4.5v0.9zM648.6 874.5v-1.1h4.5v1.1zM664.4 867.6v-1.1h4.5v1.1zM669.7 871.5v-1.6h4.5v1.6zM674.9 843.1v-1.6h4.5v1.6zM680.2 857.0v-0.9h4.5v0.9zM685.5 852.4v-0.9h4.5v0.9zM690.7 882.3v-0.9h4.5v0.9zM696.0 869.9v-1.2h4.5v1.2zM701.2 851.6v-0.9h4.5v0.9zM717.0 789.3v-2.0h4.5v2.0zM727.5 864.6v-1.6h4.5v1.6zM732.8 858.5v-0.9h4.5v0.9zM743.3 879.3v-0.9h4.5v0.9zM748.6 880.0v-0.9h4.5v0.9zM753.8 890.7v-3.8h4.5v3.8zM774.9 872.2v-1.5h4.5v1.5zM780.1 858.5v-0.9h4.5v0.9zM785.4 828.5v-1.6h4.5v1.6zM790.6 857.8v-0.9h4.5v0.9zM795.9 847.7v-1.6h4.5v1.6zM811.7 856.2v-1.6h4.5v1.6zM817.0 823.9v-1.6h4.5v1.6zM822.2 879.3v-0.9h4.5v0.9zM838.0 865.3v-3.1h4.5v3.1zM843.2 883.9v-0.9h4.5v0.9zM853.8 840.1v-0.9h4.5v0.9zM859.0 886.9v-0.9h4.5v0.9zM864.3 761.6v-2.3h4.5v2.3zM869.5 858.5v-1.6h4.5v1.6zM880.1 850.8v-1.6h4.5v1.6zM885.3 825.4v-1.8h4.5v1.8zM895.9 819.3v-1.6h4.5v1.6zM901.1 852.4v-0.9h4.5v0.9zM906.4 767.0v-1.6h4.5v1.6zM911.6 848.5v-0.9h4.5v0.9zM916.9 853.3v-1.5h4.5v1.5zM922.1 860.1v-0.9h4.5v0.9zM927.4 871.6v-0.9h4.5v0.9zM932.7 829.2v-10.0h4.5v10.0zM937.9 844.6v-1.6h4.5v1.6zM943.2 866.2v-0.9h4.5v0.9zM948.5 888.5v-0.9h4.5v0.9zM953.7 837.0v-0.9h4.5v0.9zM964.2 853.8v-1.6h4.5v1.6zM969.5 880.8v-0.9h4.5v0.9zM974.8 836.9v-1.6h4.5v1.6zM980.0 865.3v-3.1h4.5v3.1zM985.3 870.0v-1.6h4.5v1.6zM990.5 864.5v-2.3h4.5v2.3zM995.8 851.5v-1.6h4.5v1.6zM1001.0 888.3v-3.8h4.5v3.8zM1006.3 850.7v-1.5h4.5v1.5zM1016.8 891.5v-1.6h4.5v1.6zM1022.1 814.7v-1.6h4.5v1.6zM1027.3 827.0v-1.6h4.5v1.6zM1032.6 811.5v-1.2h4.5v1.2zM1037.9 868.5v-0.9h4.5v0.9zM1043.1 798.5v-1.2h4.5v1.2zM1048.4 794.6v-3.1h4.5v3.1zM1053.7 887.7v-0.9h4.5v0.9zM1058.9 866.2v-0.9h4.5v0.9zM1064.2 827.8v-0.9h4.5v0.9zM1069.4 865.4v-0.9h4.5v0.9zM1074.7 861.6v-0.9h4.5v0.9zM1080.0 836.1v-3.8h4.5v3.8zM1085.2 856.2v-0.9h4.5v0.9zM1095.7 838.6v-0.9h4.5v0.9zM1101.0 820.9v-0.9h4.5v0.9zM1106.2 836.2v-0.9h4.5v0.9zM1111.5 822.4v-1.6h4.5v1.6zM1116.8 883.9v-0.9h4.5v0.9zM1122.0 857.8v-0.9h4.5v0.9zM1127.3 853.8v-1.2h4.5v1.2zM1132.5 816.2v-1.6h4.5v1.6zM1137.8 830.0v-1.6h4.5v1.6zM1143.1 849.3v-0.9h4.5v0.9zM1148.3 831.6v-0.9h4.5v0.9zM1153.6 870.0v-1.6h4.5v1.6zM1158.8 796.2v-1.6h4.5v1.6zM1164.1 884.6v-1.6h4.5v1.6zM1169.4 873.9v-0.9h4.5v0.9zM1174.6 860.7v-1.2h4.5v1.2zM1179.9 836.1v-4.6h4.5v4.6zM1185.2 836.2v-0.9h4.5v0.9zM1190.4 870.0v-0.9h4.5v0.9zM1195.7 881.6v-0.9h4.5v0.9zM1216.7 854.7v-0.9h4.5v0.9zM1222.0 817.8v-0.9h4.5v0.9zM1227.2 850.0v-1.6h4.5v1.6zM1232.5 834.6v-2.3h4.5v2.3zM1237.8 842.3v-3.1h4.5v3.1zM1243.0 865.4v-0.9h4.5v0.9zM1248.3 846.9v-2.3h4.5v2.3zM1258.8 883.7v-1.5h4.5v1.5zM1264.0 887.7v-0.9h4.5v0.9zM1269.3 853.0v-1.1h4.5v1.1zM1290.3 891.6v-0.9h4.5v0.9zM1316.7 775.6v-0.9h4.5v0.9zM1321.9 873.1v-0.9h4.5v0.9zM1332.4 886.2v-0.9h4.5v0.9zM1337.7 843.2v-0.9h4.5v0.9zM1343.0 842.4v-0.9h4.5v0.9zM1379.8 863.0v-6.1h4.5v6.1zM1437.6 878.5v-0.9h4.5v0.9z"/></g>
<rect x="125.2" y="651.4" width="1589.3" height="246.9" fill="none" stroke="#262626" stroke-width="3.4"/>
<path d="M125.2 836.6h17M1714.5 836.6h-17M125.2 774.8h17M1714.5 774.8h-17M125.2 713.1h17M1714.5 713.1h-17" stroke="#262626" stroke-width="3.3" fill="none"/>
<text x="114" y="910.7" font-size="36.3" text-anchor="end" fill="#262626">0</text>
<text x="114" y="849.0" font-size="36.3" text-anchor="end" fill="#262626">1100</text>
<text x="114" y="787.2" font-size="36.3" text-anchor="end" fill="#262626">2200</text>
<text x="114" y="725.5" font-size="36.3" text-anchor="end" fill="#262626">3300</text>
<text x="114" y="663.8" font-size="36.3" text-anchor="end" fill="#262626">4400</text>
<text transform="translate(30.2 775.1) rotate(-90)" font-size="36" text-anchor="middle" fill="#262626">Number</text>
<g id="bars-d"><path fill="#f28e8e" d="M206.8 1217.2v-17.4h4.5v17.4zM212.1 1217.2v-37.5h4.5v37.5zM222.6 1217.2v-18.2h4.5v18.2zM227.9 1217.2v-72.8h4.5v72.8zM296.3 1217.2v-6.6h4.5v6.6zM301.5 1217.2v-3.7h4.5v3.7zM312.0 1217.2v-25.1h4.5v25.1zM369.9 1217.2v-52.0h4.5v52.0zM375.2 1217.2v-41.2h4.5v41.2zM406.7 1217.2v-18.2h4.5v18.2zM412.0 1217.2v-26.6h4.5v26.6zM417.2 1217.2v-6.6h4.5v6.6zM427.8 1217.2v-42.0h4.5v42.0zM433.0 1217.2v-58.9h4.5v58.9zM438.3 1217.2v-19.7h4.5v19.7zM448.8 1217.2v-18.9h4.5v18.9zM475.1 1217.2v-55.2h4.5v55.2zM485.6 1217.2v-77.4h4.5v77.4zM490.9 1217.2v-40.6h4.5v40.6zM496.1 1217.2v-23.5h4.5v23.5zM511.9 1217.2v-26.6h4.5v26.6zM522.4 1217.2v-37.4h4.5v37.4zM527.7 1217.2v-44.4h4.5v44.4zM533.0 1217.2v-46.7h4.5v46.7zM543.5 1217.2v-33.7h4.5v33.7zM554.0 1217.2v-18.2h4.5v18.2zM559.3 1217.2v-21.2h4.5v21.2zM564.5 1217.2v-29.1h4.5v29.1zM569.8 1217.2v-36.7h4.5v36.7zM580.3 1217.2v-65.9h4.5v65.9zM585.6 1217.2v-64.4h4.5v64.4zM606.6 1217.2v-9.7h4.5v9.7zM622.4 1217.2v-15.1h4.5v15.1zM627.6 1217.2v-25.9h4.5v25.9zM648.7 1217.2v-16.6h4.5v16.6zM653.9 1217.2v-16.6h4.5v16.6zM664.5 1217.2v-58.1h4.5v58.1zM669.7 1217.2v-50.6h4.5v50.6zM675.0 1217.2v-81.3h4.5v81.3zM685.5 1217.2v-34.3h4.5v34.3zM690.8 1217.2v-21.4h4.5v21.4zM696.0 1217.2v-2.9h4.5v2.9zM706.5 1217.2v-12.8h4.5v12.8zM711.8 1217.2v-25.9h4.5v25.9zM717.1 1217.2v-27.5h4.5v27.5zM722.3 1217.2v-92.8h4.5v92.8zM727.6 1217.2v-44.4h4.5v44.4zM732.8 1217.2v-55.8h4.5v55.8zM743.4 1217.2v-17.5h4.5v17.5zM748.6 1217.2v-37.4h4.5v37.4zM753.9 1217.2v-62.7h4.5v62.7zM759.1 1217.2v-49.8h4.5v49.8zM764.4 1217.2v-41.2h4.5v41.2zM769.7 1217.2v-49.0h4.5v49.0zM774.9 1217.2v-149.6h4.5v149.6zM780.2 1217.2v-65.8h4.5v65.8zM785.4 1217.2v-54.4h4.5v54.4zM790.7 1217.2v-45.1h4.5v45.1zM796.0 1217.2v-26.0h4.5v26.0zM801.2 1217.2v-44.4h4.5v44.4zM806.5 1217.2v-32.0h4.5v32.0zM811.7 1217.2v-54.4h4.5v54.4zM817.0 1217.2v-67.5h4.5v67.5zM843.3 1217.2v-65.8h4.5v65.8zM848.6 1217.2v-105.9h4.5v105.9zM853.8 1217.2v-76.7h4.5v76.7zM859.1 1217.2v-85.1h4.5v85.1zM864.3 1217.2v-42.0h4.5v42.0zM869.6 1217.2v-68.1h4.5v68.1zM874.9 1217.2v-49.8h4.5v49.8zM880.1 1217.2v-27.4h4.5v27.4zM885.4 1217.2v-15.1h4.5v15.1zM895.9 1217.2v-59.6h4.5v59.6zM901.2 1217.2v-49.8h4.5v49.8zM906.4 1217.2v-37.5h4.5v37.5zM911.7 1217.2v-32.0h4.5v32.0zM922.2 1217.2v-54.3h4.5v54.3zM927.5 1217.2v-28.9h4.5v28.9zM932.7 1217.2v-46.7h4.5v46.7zM938.0 1217.2v-106.6h4.5v106.6zM943.2 1217.2v-76.7h4.5v76.7zM948.5 1217.2v-29.7h4.5v29.7zM953.8 1217.2v-89.7h4.5v89.7zM959.0 1217.2v-93.4h4.5v93.4zM964.3 1217.2v-65.8h4.5v65.8zM969.5 1217.2v-53.5h4.5v53.5zM974.8 1217.2v-71.3h4.5v71.3zM980.1 1217.2v-54.4h4.5v54.4zM990.6 1217.2v-45.1h4.5v45.1zM995.8 1217.2v-36.6h4.5v36.6zM1001.1 1217.2v-24.3h4.5v24.3zM1006.4 1217.2v-34.4h4.5v34.4zM1011.6 1217.2v-12.0h4.5v12.0zM1016.9 1217.2v-58.1h4.5v58.1zM1022.1 1217.2v-75.9h4.5v75.9zM1027.4 1217.2v-105.0h4.5v105.0zM1032.7 1217.2v-145.8h4.5v145.8zM1037.9 1217.2v-127.2h4.5v127.2zM1048.4 1217.2v-83.5h4.5v83.5zM1053.7 1217.2v-14.5h4.5v14.5zM1059.0 1217.2v-112.8h4.5v112.8zM1064.2 1217.2v-118.9h4.5v118.9zM1069.5 1217.2v-64.3h4.5v64.3zM1074.7 1217.2v-157.3h4.5v157.3zM1080.0 1217.2v-105.1h4.5v105.1zM1085.3 1217.2v-9.0h4.5v9.0zM1090.5 1217.2v-65.8h4.5v65.8zM1095.8 1217.2v-60.5h4.5v60.5zM1101.0 1217.2v-55.0h4.5v55.0zM1106.3 1217.2v-72.1h4.5v72.1zM1111.6 1217.2v-6.6h4.5v6.6zM1122.1 1217.2v-26.0h4.5v26.0zM1127.3 1217.2v-64.4h4.5v64.4zM1132.6 1217.2v-23.5h4.5v23.5zM1137.9 1217.2v-36.6h4.5v36.6zM1143.1 1217.2v-53.6h4.5v53.6zM1148.4 1217.2v-101.1h4.5v101.1zM1153.6 1217.2v-46.6h4.5v46.6zM1158.9 1217.2v-43.5h4.5v43.5zM1164.2 1217.2v-37.4h4.5v37.4zM1174.7 1217.2v-48.1h4.5v48.1zM1179.9 1217.2v-2.2h4.5v2.2zM1185.2 1217.2v-7.4h4.5v7.4zM1190.5 1217.2v-70.4h4.5v70.4zM1195.7 1217.2v-23.7h4.5v23.7zM1201.0 1217.2v-29.8h4.5v29.8zM1206.2 1217.2v-42.0h4.5v42.0zM1211.5 1217.2v-97.3h4.5v97.3zM1216.8 1217.2v-49.7h4.5v49.7zM1222.0 1217.2v-148.7h4.5v148.7zM1227.3 1217.2v-27.4h4.5v27.4zM1232.5 1217.2v-42.9h4.5v42.9zM1237.8 1217.2v-23.5h4.5v23.5zM1243.1 1217.2v-36.6h4.5v36.6zM1248.3 1217.2v-15.1h4.5v15.1zM1253.6 1217.2v-48.1h4.5v48.1zM1258.8 1217.2v-48.1h4.5v48.1zM1264.1 1217.2v-69.0h4.5v69.0zM1269.4 1217.2v-12.2h4.5v12.2zM1279.9 1217.2v-16.0h4.5v16.0zM1300.9 1217.2v-22.9h4.5v22.9zM1395.6 1217.2v-22.9h4.5v22.9zM1400.9 1217.2v-26.8h4.5v26.8zM1411.4 1217.2v-6.6h4.5v6.6zM1537.6 1217.2v-2.9h4.5v2.9z"/><path fill="#8dd0ec" d="M475.1 1162.0v-18.4h4.5v18.4zM490.9 1176.6v-8.4h4.5v8.4zM527.7 1172.8v-21.5h4.5v21.5zM533.0 1170.5v-20.7h4.5v20.7zM543.5 1183.5v-6.8h4.5v6.8zM569.8 1180.5v-23.8h4.5v23.8zM580.3 1151.3v-5.3h4.5v5.3zM585.6 1152.8v-6.1h4.5v6.1zM690.8 1195.8v-4.5h4.5v4.5zM722.3 1124.4v-35.3h4.5v35.3zM727.6 1172.8v-16.1h4.5v16.1zM743.4 1199.7v-3.0h4.5v3.0zM769.7 1168.2v-9.2h4.5v9.2zM785.4 1162.8v-10.7h4.5v10.7zM796.0 1191.2v-4.5h4.5v4.5zM801.2 1172.8v-4.5h4.5v4.5zM811.7 1162.8v-12.2h4.5v12.2zM817.0 1149.7v-19.1h4.5v19.1zM848.6 1111.3v-8.4h4.5v8.4zM853.8 1140.5v-9.9h4.5v9.9zM859.1 1132.1v-12.2h4.5v12.2zM874.9 1167.4v-14.5h4.5v14.5zM901.2 1167.4v-12.2h4.5v12.2zM906.4 1179.7v-3.8h4.5v3.8zM932.7 1170.5v-25.3h4.5v25.3zM938.0 1110.6v-20.7h4.5v20.7zM943.2 1140.5v-18.4h4.5v18.4zM953.8 1127.5v-16.1h4.5v16.1zM980.1 1162.8v-5.4h4.5v5.4zM1022.1 1141.3v-5.4h4.5v5.4zM1053.7 1202.7v-6.1h4.5v6.1zM1059.0 1104.4v-45.3h4.5v45.3zM1080.0 1112.1v-23.7h4.5v23.7zM1095.8 1156.7v-8.4h4.5v8.4zM1106.3 1145.1v-6.1h4.5v6.1zM1116.8 1217.2v-100.4h4.5v100.4zM1122.1 1191.2v-219.3h4.5v219.3zM1127.3 1152.8v-62.2h4.5v62.2zM1195.7 1193.5v-12.2h4.5v12.2zM1201.0 1187.4v-14.5h4.5v14.5zM1264.1 1148.2v-6.1h4.5v6.1zM1269.4 1205.0v-2.2h4.5v2.2zM1395.6 1194.3v-58.4h4.5v58.4zM1400.9 1190.4v-21.4h4.5v21.4z"/><path fill="#9370db" d="M206.8 1199.8v-0.9h4.5v0.9zM212.1 1179.7v-1.2h4.5v1.2zM222.6 1199.0v-0.9h4.5v0.9zM227.9 1144.4v-3.8h4.5v3.8zM296.3 1210.6v-0.9h4.5v0.9zM312.0 1192.1v-0.9h4.5v0.9zM369.9 1165.2v-0.9h4.5v0.9zM375.2 1176.0v-0.9h4.5v0.9zM406.7 1199.0v-0.9h4.5v0.9zM412.0 1190.6v-0.9h4.5v0.9zM417.2 1210.6v-0.9h4.5v0.9zM427.8 1175.2v-0.9h4.5v0.9zM433.0 1158.3v-0.9h4.5v0.9zM438.3 1197.5v-0.9h4.5v0.9zM448.8 1198.3v-0.9h4.5v0.9zM475.1 1143.7v-1.6h4.5v1.6zM485.6 1139.8v-3.1h4.5v3.1zM490.9 1168.2v-1.6h4.5v1.6zM496.1 1193.7v-0.9h4.5v0.9zM511.9 1190.6v-0.9h4.5v0.9zM522.4 1179.8v-0.9h4.5v0.9zM527.7 1151.3v-1.4h4.5v1.4zM533.0 1149.7v-1.8h4.5v1.8zM543.5 1176.7v-1.6h4.5v1.6zM554.0 1199.0v-0.9h4.5v0.9zM559.3 1196.0v-0.9h4.5v0.9zM564.5 1188.1v-3.8h4.5v3.8zM569.8 1156.7v-1.8h4.5v1.8zM580.3 1146.0v-1.6h4.5v1.6zM585.6 1146.7v-1.6h4.5v1.6zM606.6 1207.5v-0.9h4.5v0.9zM622.4 1202.1v-0.9h4.5v0.9zM627.6 1191.3v-0.9h4.5v0.9zM648.7 1200.6v-0.9h4.5v0.9zM653.9 1200.6v-0.9h4.5v0.9zM664.5 1159.1v-0.9h4.5v0.9zM669.7 1166.6v-3.8h4.5v3.8zM675.0 1135.9v-5.4h4.5v5.4zM685.5 1182.9v-0.9h4.5v0.9zM690.8 1191.3v-1.6h4.5v1.6zM706.5 1204.4v-0.9h4.5v0.9zM711.8 1191.3v-0.9h4.5v0.9zM717.1 1189.7v-6.1h4.5v6.1zM722.3 1089.1v-3.1h4.5v3.1zM727.6 1156.7v-1.6h4.5v1.6zM732.8 1161.4v-0.9h4.5v0.9zM743.4 1196.7v-1.6h4.5v1.6zM748.6 1179.8v-0.9h4.5v0.9zM753.9 1154.5v-0.9h4.5v0.9zM759.1 1167.4v-4.6h4.5v4.6zM764.4 1176.0v-0.9h4.5v0.9zM769.7 1159.0v-1.6h4.5v1.6zM774.9 1067.6v-6.1h4.5v6.1zM780.2 1151.4v-0.9h4.5v0.9zM785.4 1152.1v-1.6h4.5v1.6zM790.7 1172.1v-0.9h4.5v0.9zM796.0 1186.7v-1.6h4.5v1.6zM801.2 1168.2v-1.6h4.5v1.6zM806.5 1185.2v-0.9h4.5v0.9zM811.7 1150.6v-1.6h4.5v1.6zM817.0 1130.6v-1.6h4.5v1.6zM843.3 1151.4v-0.9h4.5v0.9zM848.6 1102.9v-1.6h4.5v1.6zM853.8 1130.6v-1.6h4.5v1.6zM859.1 1119.8v-1.6h4.5v1.6zM864.3 1175.2v-0.9h4.5v0.9zM869.6 1149.1v-0.9h4.5v0.9zM874.9 1152.9v-1.6h4.5v1.6zM880.1 1189.8v-0.9h4.5v0.9zM885.4 1202.1v-0.9h4.5v0.9zM895.9 1157.6v-0.9h4.5v0.9zM901.2 1155.2v-1.6h4.5v1.6zM906.4 1175.9v-1.6h4.5v1.6zM911.7 1185.2v-0.9h4.5v0.9zM922.2 1162.9v-0.9h4.5v0.9zM927.5 1188.3v-0.9h4.5v0.9zM932.7 1145.2v-1.6h4.5v1.6zM938.0 1089.9v-1.6h4.5v1.6zM943.2 1122.2v-1.6h4.5v1.6zM948.5 1187.5v-0.9h4.5v0.9zM953.8 1111.4v-1.6h4.5v1.6zM959.0 1123.8v-0.9h4.5v0.9zM964.3 1151.4v-0.9h4.5v0.9zM969.5 1163.7v-0.9h4.5v0.9zM974.8 1145.9v-3.1h4.5v3.1zM980.1 1157.4v-1.1h4.5v1.1zM990.6 1172.1v-0.9h4.5v0.9zM995.8 1180.6v-0.9h4.5v0.9zM1001.1 1192.9v-0.9h4.5v0.9zM1006.4 1182.8v-3.1h4.5v3.1zM1011.6 1205.2v-0.9h4.5v0.9zM1016.9 1159.1v-0.9h4.5v0.9zM1022.1 1135.9v-1.1h4.5v1.1zM1027.4 1112.2v-0.9h4.5v0.9zM1032.7 1071.4v-1.5h4.5v1.5zM1037.9 1090.0v-0.9h4.5v0.9zM1048.4 1133.7v-0.9h4.5v0.9zM1053.7 1196.6v-3.1h4.5v3.1zM1059.0 1059.1v-2.6h4.5v2.6zM1064.2 1098.3v-1.2h4.5v1.2zM1069.5 1152.9v-0.9h4.5v0.9zM1074.7 1059.9v-1.2h4.5v1.2zM1080.0 1088.4v-1.6h4.5v1.6zM1085.3 1208.2v-0.9h4.5v0.9zM1090.5 1151.4v-0.9h4.5v0.9zM1095.8 1148.2v-1.1h4.5v1.1zM1101.0 1162.2v-0.9h4.5v0.9zM1106.3 1139.0v-1.6h4.5v1.6zM1111.6 1210.6v-0.9h4.5v0.9zM1116.8 1116.8v-1.6h4.5v1.6zM1122.1 971.9v-1.6h4.5v1.6zM1127.3 1090.6v-1.2h4.5v1.2zM1132.6 1193.7v-0.9h4.5v0.9zM1137.9 1180.6v-0.9h4.5v0.9zM1143.1 1163.6v-1.2h4.5v1.2zM1148.4 1116.1v-0.9h4.5v0.9zM1153.6 1170.6v-0.9h4.5v0.9zM1158.9 1173.7v-0.9h4.5v0.9zM1164.2 1179.8v-0.9h4.5v0.9zM1174.7 1169.1v-0.9h4.5v0.9zM1185.2 1209.8v-0.9h4.5v0.9zM1190.5 1146.8v-0.9h4.5v0.9zM1195.7 1181.3v-1.6h4.5v1.6zM1201.0 1172.8v-1.6h4.5v1.6zM1206.2 1175.2v-0.9h4.5v0.9zM1211.5 1119.9v-0.9h4.5v0.9zM1216.8 1167.5v-0.9h4.5v0.9zM1222.0 1068.5v-0.9h4.5v0.9zM1227.3 1189.8v-0.9h4.5v0.9zM1232.5 1174.3v-1.5h4.5v1.5zM1237.8 1193.7v-0.9h4.5v0.9zM1243.1 1180.6v-0.9h4.5v0.9zM1248.3 1202.1v-0.9h4.5v0.9zM1253.6 1169.1v-0.9h4.5v0.9zM1258.8 1169.1v-0.9h4.5v0.9zM1264.1 1142.1v-1.6h4.5v1.6zM1269.4 1202.8v-1.6h4.5v1.6zM1279.9 1201.2v-1.1h4.5v1.1zM1300.9 1194.3v-1.5h4.5v1.5zM1395.6 1135.9v-1.4h4.5v1.4zM1400.9 1169.0v-1.6h4.5v1.6zM1411.4 1210.6v-0.9h4.5v0.9z"/></g>
<rect x="125.2" y="970.3" width="1589.3" height="246.9" fill="none" stroke="#262626" stroke-width="3.4"/>
<path d="M125.2 1155.5h17M1714.5 1155.5h-17M125.2 1093.8h17M1714.5 1093.8h-17M125.2 1032.0h17M1714.5 1032.0h-17M267 1217.2v-17.5M267 970.3v17.5M424.5 1217.2v-17.5M424.5 970.3v17.5M588.3 1217.2v-17.5M588.3 970.3v17.5M751.1 1217.2v-17.5M751.1 970.3v17.5M908 1217.2v-17.5M908 970.3v17.5M1071.5 1217.2v-17.5M1071.5 970.3v17.5M1235.3 1217.2v-17.5M1235.3 970.3v17.5M1392.6 1217.2v-17.5M1392.6 970.3v17.5M1556.7 1217.2v-17.5M1556.7 970.3v17.5" stroke="#262626" stroke-width="3.3" fill="none"/>
<text x="114" y="1229.6" font-size="36.3" text-anchor="end" fill="#262626">0</text>
<text x="114" y="1167.9" font-size="36.3" text-anchor="end" fill="#262626">1100</text>
<text x="114" y="1106.2" font-size="36.3" text-anchor="end" fill="#262626">2200</text>
<text x="114" y="1044.4" font-size="36.3" text-anchor="end" fill="#262626">3300</text>
<text x="114" y="982.7" font-size="36.3" text-anchor="end" fill="#262626">4400</text>
<text transform="translate(30.2 1094.0) rotate(-90)" font-size="36" text-anchor="middle" fill="#262626">Number</text>
<text x="201.5" y="1263.5" font-size="36.3" text-anchor="middle" fill="#262626">Feb.</text>
<text x="344" y="1263.5" font-size="36.3" text-anchor="middle" fill="#262626">Mar.</text>
<text x="501" y="1263.5" font-size="36.3" text-anchor="middle" fill="#262626">Apr.</text>
<text x="662.5" y="1263.5" font-size="36.3" text-anchor="middle" fill="#262626">May</text>
<text x="827.7" y="1263.5" font-size="36.3" text-anchor="middle" fill="#262626">Jun.</text>
<text x="985.4" y="1263.5" font-size="36.3" text-anchor="middle" fill="#262626">Jul.</text>
<text x="1149.3" y="1263.5" font-size="36.3" text-anchor="middle" fill="#262626">Aug.</text>
<text x="1311.3" y="1263.5" font-size="36.3" text-anchor="middle" fill="#262626">Sep.</text>
<text x="1469.6" y="1263.5" font-size="36.3" text-anchor="middle" fill="#262626">Oct.</text>
<text x="1633.2" y="1263.5" font-size="36.3" text-anchor="middle" fill="#262626">Nov.</text>
<text x="919.5" y="1305" font-size="36" text-anchor="middle" fill="#262626">Month</text>
<text x="182" y="117.9" font-size="48" fill="#111">a</text>
<text x="182" y="435.2" font-size="48" fill="#111">b</text>
<text x="182" y="733" font-size="48" fill="#111">c</text>
<text x="180.5" y="1067" font-size="48" fill="#111">d</text>
<rect x="1293" y="24.8" width="406" height="118.6" fill="#fff" stroke="#262626" stroke-width="3.2"/>
<rect x="1299" y="33.7" width="58.3" height="27" fill="#f08080"/>
<text x="1363.5" y="58.5" font-size="32.3" fill="#262626">Delays</text>
<rect x="1299" y="71.7" width="58.3" height="27" fill="#87ceeb"/>
<text x="1363.5" y="96.2" font-size="32.3" fill="#262626">Cancelations</text>
<rect x="1299" y="109.5" width="58.3" height="27" fill="#9370db"/>
<text x="1363.5" y="134.2" font-size="32.3" fill="#262626">Turnbacks and diversions</text>
</svg>
</body></html>
